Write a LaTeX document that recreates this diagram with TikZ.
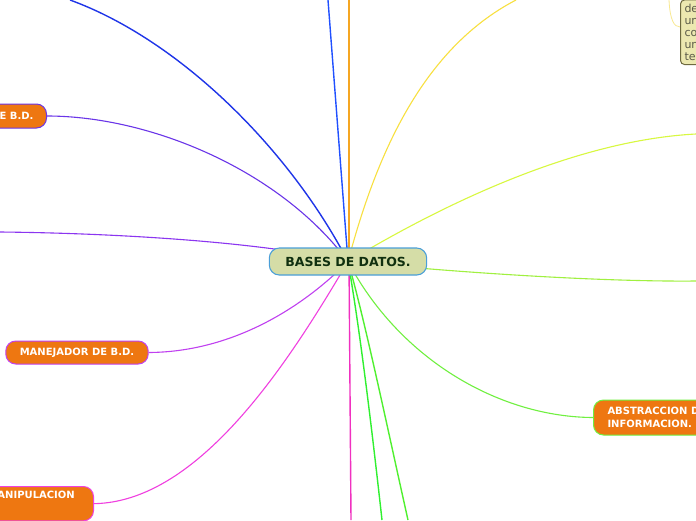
\documentclass[tikz,border=0pt]{standalone}
\usepackage{fontspec}
\setmainfont{DejaVu Sans}
\usetikzlibrary{backgrounds}
\definecolor{orangefill}{HTML}{EE7711}
\definecolor{centerfill}{HTML}{D5DDA7}
\definecolor{centerborder}{HTML}{4A9FD8}
\definecolor{centertext}{HTML}{10300F}
\definecolor{notefill}{HTML}{ECE8B0}
\definecolor{noteborder}{HTML}{6E6A40}
\definecolor{notetext}{HTML}{5A5A48}
\definecolor{cblueA}{HTML}{1F35E8}
\definecolor{cblueB}{HTML}{2050FF}
\definecolor{corange}{HTML}{F5A623}
\definecolor{cpurpleA}{HTML}{6A35E8}
\definecolor{cpurpleB}{HTML}{8B35F0}
\definecolor{cviolet}{HTML}{C040F0}
\definecolor{cpink}{HTML}{F040E0}
\definecolor{cmagenta}{HTML}{F030C0}
\definecolor{cgreenA}{HTML}{30F030}
\definecolor{cgreenB}{HTML}{50F030}
\definecolor{cgreenC}{HTML}{70F040}
\definecolor{cygA}{HTML}{A0F040}
\definecolor{cygB}{HTML}{D8F840}
\definecolor{cyellow}{HTML}{F8E040}
\definecolor{cfaint}{HTML}{F8E890}
\tikzset{
  centerbox/.style={draw=centerborder, fill=centerfill, line width=1.1pt, rounded corners=10pt,
    text=centertext, font=\fontsize{12.5}{15}\selectfont\bfseries, minimum height=27pt, inner xsep=16pt},
  topicbox/.style={fill=orangefill, line width=1pt, rounded corners=10pt, text=white,
    font=\fontsize{10}{13}\selectfont\bfseries, inner xsep=14pt, inner ysep=5pt},
  notebox/.style={draw=noteborder, fill=notefill, line width=1pt, rounded corners=4pt, text=notetext,
    font=\fontsize{11}{12}\selectfont, align=left, inner xsep=4pt, inner ysep=4pt},
  conn/.style={line width=1.4pt},
  thinconn/.style={line width=1.1pt},
}
\begin{document}
\begin{tikzpicture}[x=1pt,y=-1pt]
\useasboundingbox (0,0) rectangle (696,520);
% nodes
\node[centerbox] (c) at (348,261.5) {BASES DE DATOS.};
\node[topicbox, draw=cpurpleA, anchor=east, minimum height=24pt, inner xsep=13pt] (ebd) at (47,116) {E B.D.};
\node[topicbox, draw=cviolet, minimum height=23pt, minimum width=142pt] (mane) at (77,352.5) {MANEJADOR DE B.D.};
\node[topicbox, draw=cpink, anchor=north east, text width=82pt, align=left, minimum height=33pt] (mani) at (94,486) {ANIPULACION\\\strut};
\node[topicbox, draw=cgreenC, anchor=west, align=left, minimum height=35pt] (abs) at (593,417.5) {ABSTRACCION DE LA\\INFORMACION.};
\node[notebox, anchor=south west, text width=90pt] (note) at (680,65) {de\\un\\co\\un\\te};
% free ends
\coordinate (eA) at (70,0);
\coordinate (eB) at (328,0);
\coordinate (eC) at (349,0);
\coordinate (eD) at (0,232);
\coordinate (eE) at (351,520);
\coordinate (eF) at (382,520);
\coordinate (eG) at (408,520);
\coordinate (eH) at (696,281);
\coordinate (eI) at (696,134);
\coordinate (eJ) at (516,0);
\coordinate (eK) at (669,0);
\begin{scope}[on background layer]
\fill[white] (0,0) rectangle (696,520);
\draw[conn, cblueA] (c.center) .. controls (290,150) and (180,40) .. (eA);
\draw[conn, cblueB] (c.center) -- (eB);
\draw[conn, corange] (349,261) -- (eC);
\draw[thinconn, cpurpleA] (c.center) .. controls (280,170) and (150,116) .. (ebd.east);
\draw[thinconn, cpurpleB] (c.center) .. controls (250,240) and (100,233) .. (eD);
\draw[thinconn, cviolet] (c.center) .. controls (300,310) and (230,352) .. (mane.east);
\draw[thinconn, cpink] (c.center) .. controls (290,360) and (200,502) .. (mani.east);
\draw[conn, cmagenta] (349,261) -- (eE);
\draw[conn, cgreenA] (c.center) .. controls (360,330) and (372,430) .. (eF);
\draw[conn, cgreenB] (c.center) .. controls (365,320) and (390,440) .. (eG);
\draw[thinconn, cgreenC] (c.center) .. controls (400,360) and (500,417) .. (abs.west);
\draw[thinconn, cygA] (c.center) .. controls (450,272) and (600,282) .. (eH);
\draw[thinconn, cygB] (c.center) .. controls (450,200) and (580,140) .. (eI);
\draw[thinconn, cyellow] (c.center) .. controls (375,160) and (420,50) .. (eJ);
\draw[cfaint, line width=0.8pt] (note.west |- 0,27) .. controls (674,27) and (670,20) .. (eK);
\end{scope}
\end{tikzpicture}
\end{document}
